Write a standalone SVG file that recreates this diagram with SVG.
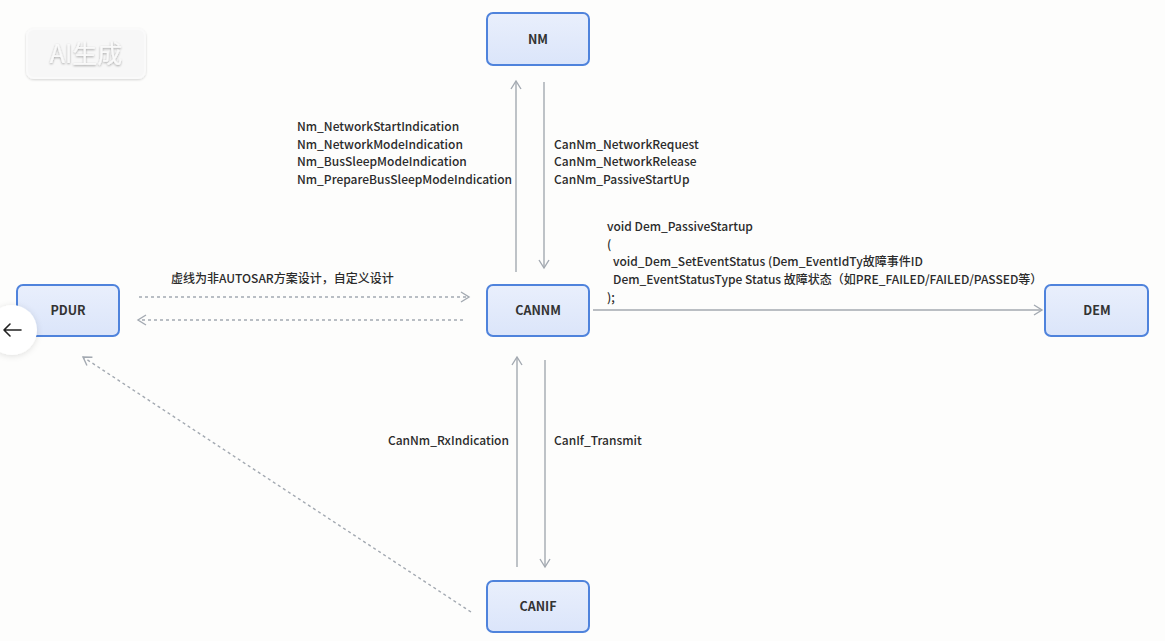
<svg xmlns="http://www.w3.org/2000/svg" width="1165" height="641" viewBox="0 0 1165 641">
<defs>
<linearGradient id="nodeFill" x1="0" y1="0" x2="0" y2="1">
<stop offset="0" stop-color="#e9effc"/>
<stop offset="1" stop-color="#dbe5fa"/>
</linearGradient>
<marker id="arr" viewBox="0 0 12 12" refX="10" refY="6" markerWidth="12" markerHeight="12" markerUnits="userSpaceOnUse" orient="auto">
<path d="M2,1 L10,6 L2,11" fill="none" stroke="#a3a9b1" stroke-width="1.4"/>
</marker>
<filter id="sh" x="-50%" y="-50%" width="200%" height="200%">
<feDropShadow dx="0" dy="1" stdDeviation="3" flood-color="#000" flood-opacity="0.12"/>
</filter>
<filter id="wsh" x="-20%" y="-40%" width="140%" height="180%">
<feDropShadow dx="0" dy="1" stdDeviation="1.2" flood-color="#000" flood-opacity="0.16"/>
</filter>
<filter id="tsh" x="-20%" y="-40%" width="140%" height="180%">
<feDropShadow dx="0" dy="1" stdDeviation="1" flood-color="#000" flood-opacity="0.35"/>
</filter>
</defs>
<style>
.node rect{fill:url(#nodeFill);stroke:#4f83dc;stroke-width:2}
.node text{font-family:"Noto Sans CJK SC","Noto Sans",sans-serif;font-size:12.5px;font-weight:700;fill:#333;text-anchor:middle}
.lbl{font-family:"Noto Sans CJK SC","Noto Sans",sans-serif;font-size:12px;font-weight:500;fill:#2b2b2b}
.ln{fill:none;stroke:#a3a9b1;stroke-width:1.4;marker-end:url(#arr)}
.dash{stroke-dasharray:3 3}
</style>
<rect width="1165" height="641" fill="#fdfdfc"/>
<g id="watermark">
<rect x="27" y="29" width="118" height="49" rx="7" fill="#f7f7f7" stroke="#fafafa" stroke-width="2" filter="url(#wsh)"/>
<text x="86" y="63" font-family="Noto Sans CJK SC,sans-serif" font-size="25" fill="#f9f9f9" text-anchor="middle" filter="url(#tsh)">AI生成</text>
</g>
<g id="connectors">
<line class="ln" x1="516" y1="272" x2="516" y2="81"/>
<line class="ln" x1="544" y1="82" x2="544" y2="268"/>
<line class="ln" x1="593" y1="310" x2="1042" y2="310"/>
<line class="ln dash" x1="139" y1="297" x2="469" y2="297"/>
<line class="ln dash" x1="463" y1="320" x2="138" y2="320"/>
<line class="ln dash" x1="471" y1="612" x2="83" y2="357"/>
<line class="ln" x1="517" y1="567" x2="517" y2="357"/>
<line class="ln" x1="545" y1="360" x2="545" y2="567"/>
</g>
<g id="labels">
<text class="lbl" x="297" y="131">Nm_NetworkStartIndication</text>
<text class="lbl" x="297" y="149">Nm_NetworkModeIndication</text>
<text class="lbl" x="297" y="166">Nm_BusSleepModeIndication</text>
<text class="lbl" x="297" y="184">Nm_PrepareBusSleepModeIndication</text>
<text class="lbl" x="554" y="149">CanNm_NetworkRequest</text>
<text class="lbl" x="554" y="166">CanNm_NetworkRelease</text>
<text class="lbl" x="554" y="184">CanNm_PassiveStartUp</text>
<text class="lbl" x="607" y="231">void Dem_PassiveStartup</text>
<text class="lbl" x="607" y="249">(</text>
<text class="lbl" x="613" y="266">void_Dem_SetEventStatus (Dem_EventIdTy故障事件ID</text>
<text class="lbl" x="613" y="284">Dem_EventStatusType Status 故障状态（如PRE_FAILED/FAILED/PASSED等）</text>
<text class="lbl" x="607" y="302">);</text>
<text class="lbl" x="171" y="283">虚线为非AUTOSAR方案设计，自定义设计</text>
<text class="lbl" x="509" y="445" text-anchor="end">CanNm_RxIndication</text>
<text class="lbl" x="554" y="445">CanIf_Transmit</text>
</g>
<g id="NM" class="node"><rect x="487" y="13" width="102" height="52" rx="6"/><text x="538" y="44">NM</text></g>
<g id="CANNM" class="node"><rect x="487" y="285" width="102" height="51" rx="6"/><text x="538" y="315">CANNM</text></g>
<g id="PDUR" class="node"><rect x="17" y="285" width="102" height="51" rx="6"/><text x="68" y="315">PDUR</text></g>
<g id="DEM" class="node"><rect x="1045" y="285" width="103" height="51" rx="6"/><text x="1097" y="315">DEM</text></g>
<g id="CANIF" class="node"><rect x="487" y="581" width="102" height="51" rx="6"/><text x="538" y="611">CANIF</text></g>
<g id="backButton">
<circle cx="12" cy="330" r="25" fill="#ffffff" filter="url(#sh)"/>
<path d="M4,330 H21 M10,324 L4,330 L10,336" fill="none" stroke="#222" stroke-width="1.6" stroke-linecap="round" stroke-linejoin="round"/>
</g>
</svg>
